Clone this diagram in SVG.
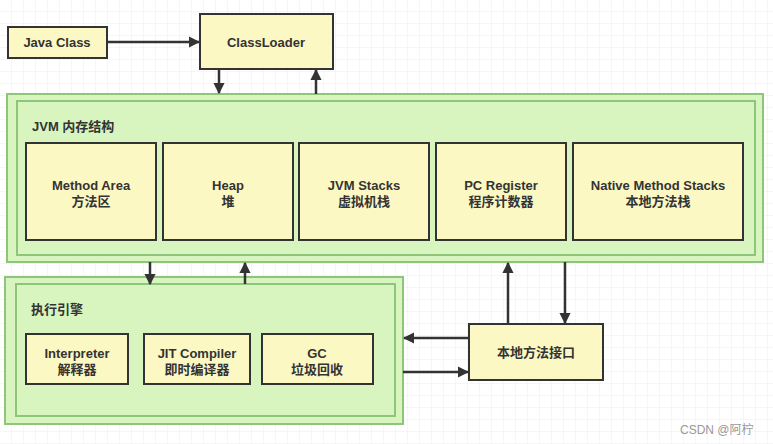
<svg xmlns="http://www.w3.org/2000/svg" width="773" height="444" viewBox="0 0 773 444">
<style>
.y{fill:#fcf8c4;stroke:#333;stroke-width:2}
.g{fill:#d8f5c0;stroke:#8fc57a;stroke-width:2}
.t{font-family:"Liberation Sans","Noto Sans CJK SC",sans-serif;font-size:13px;font-weight:bold;fill:#333;text-anchor:middle}
.l{font-family:"Liberation Sans","Noto Sans CJK SC",sans-serif;font-size:13px;font-weight:bold;fill:#333}
.c line{stroke:#333;stroke-width:2.5;marker-end:url(#a)}
</style>
<defs>
<pattern id="p" width="12" height="12" patternUnits="userSpaceOnUse"><path d="M12 0V12H0" fill="none" stroke="#ececec" stroke-width="1"/></pattern>
<marker id="a" viewBox="0 0 10 10" refX="9" refY="5" markerWidth="4.5" markerHeight="4.5" orient="auto"><path d="M0 0L10 5L0 10z" fill="#333"/></marker>
</defs>
<rect width="773" height="444" fill="#fff"/>
<rect width="773" height="444" fill="url(#p)"/>
<g id="javaclass"><rect class="y" x="8" y="27" width="99" height="31"/><text class="t" x="57" y="47">Java Class</text></g>
<g id="classloader"><rect class="y" x="200" y="14" width="133" height="55"/><text class="t" x="266" y="47">ClassLoader</text></g>
<g id="jvm"><rect class="g" x="7" y="94" width="756" height="168"/><rect class="g" x="17" y="101" width="738" height="154"/><text class="l" x="32" y="131">JVM 内存结构</text></g>
<g id="method"><rect class="y" x="26" y="143" width="130" height="97"/><text class="t" x="91" y="190">Method Area</text><text class="t" x="91" y="206">方法区</text></g>
<g id="heap"><rect class="y" x="163" y="143" width="130" height="97"/><text class="t" x="228" y="190">Heap</text><text class="t" x="228" y="206">堆</text></g>
<g id="stacks"><rect class="y" x="299" y="143" width="130" height="97"/><text class="t" x="364" y="190">JVM Stacks</text><text class="t" x="364" y="206">虚拟机栈</text></g>
<g id="pc"><rect class="y" x="436" y="143" width="130" height="97"/><text class="t" x="501" y="190">PC Register</text><text class="t" x="501" y="206">程序计数器</text></g>
<g id="native"><rect class="y" x="573" y="143" width="170" height="97"/><text class="t" x="658" y="190">Native Method Stacks</text><text class="t" x="658" y="206">本地方法栈</text></g>
<g id="engine"><rect class="g" x="5" y="277" width="398" height="147"/><rect class="g" x="16" y="284" width="379" height="132"/><text class="l" x="31" y="314">执行引擎</text></g>
<g id="interp"><rect class="y" x="26" y="334" width="102" height="50"/><text class="t" x="77" y="358">Interpreter</text><text class="t" x="77" y="374">解释器</text></g>
<g id="jit"><rect class="y" x="144" y="334" width="106" height="50"/><text class="t" x="197" y="358">JIT Compiler</text><text class="t" x="197" y="374">即时编译器</text></g>
<g id="gc"><rect class="y" x="262" y="334" width="111" height="50"/><text class="t" x="317" y="358">GC</text><text class="t" x="317" y="374">垃圾回收</text></g>
<g id="jni"><rect class="y" x="469" y="324" width="134" height="56"/><text class="t" x="536" y="357">本地方法接口</text></g>
<g class="c" id="connectors">
<line x1="107" y1="42" x2="199" y2="42"/>
<line x1="219" y1="69" x2="219" y2="93"/>
<line x1="316" y1="94" x2="316" y2="70"/>
<line x1="150" y1="262" x2="150" y2="284"/>
<line x1="245" y1="284" x2="245" y2="263"/>
<line x1="508" y1="324" x2="508" y2="263"/>
<line x1="565" y1="262" x2="565" y2="323"/>
<line x1="469" y1="338" x2="404" y2="338"/>
<line x1="403" y1="372" x2="468" y2="372"/>
</g>
<text x="680" y="434" font-family="Liberation Sans,'Noto Sans CJK SC',sans-serif" font-size="12" fill="#999">CSDN @阿柠</text>
</svg>
